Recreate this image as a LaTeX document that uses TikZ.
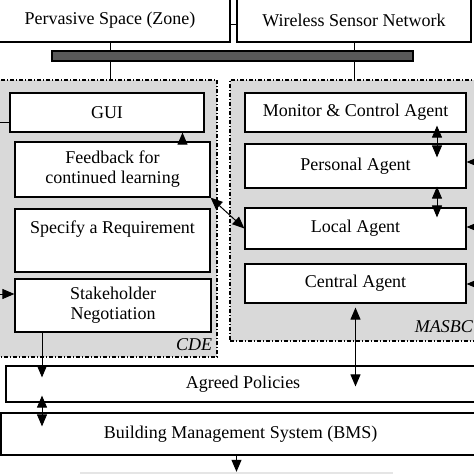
\documentclass[tikz,border=0pt]{standalone}
\usepackage{fontspec}
\setmainfont{Liberation Serif}
\usetikzlibrary{arrows.meta}
\begin{document}
\begin{tikzpicture}[x=1pt,y=-1pt,font=\fontsize{18}{20}\selectfont]
\tikzstyle{box} = [draw,line width=1.2pt,fill=white,inner sep=0pt,align=center];
\tikzstyle{group} = [draw,line width=1.1pt,fill=gray!30,dash pattern=on 4pt off 2pt on 1pt off 2pt];
\tikzstyle{link} = [line width=1pt];
\tikzstyle{arr} = [line width=1pt,-{Triangle[length=12pt,width=10pt]}];
\tikzstyle{darr} = [line width=1pt,{Triangle[length=12pt,width=10pt]}-{Triangle[length=12pt,width=10pt]}];

\useasboundingbox (0,0) rectangle (474,474);
\clip (0,0) rectangle (474,474);

\node [box] (pvs) at (110,20) [minimum width=240pt,minimum height=44pt] {Pervasive Space (Zone)};
\node [box] (wsn) at (354,20) [minimum width=234pt,minimum height=44pt] {Wireless Sensor Network};
\node [draw,line width=1.1pt,fill=black!65,minimum width=361pt,minimum height=10pt,inner sep=0pt] (bus) at (232.5,56) {};

\node [group,minimum width=222pt,minimum height=277pt] (cde) at (106,218.5) {};
\node [group,minimum width=250pt,minimum height=261pt] (mas) at (355,210.5) {};

\node [box] (gui) at (107,112.5) [minimum width=194pt,minimum height=39pt] {GUI};
\node [box] (fb) at (112.5,169.5) [minimum width=195pt,minimum height=55pt] {Feedback for\\continued learning};
\node [box] (spec) at (112.5,240.5) [minimum width=195pt,minimum height=63pt] {Specify a Requirement\\[6pt]\mbox{}};
\node [box] (stk) at (113,305.5) [minimum width=196pt,minimum height=53pt] {Stakeholder\\Negotiation};

\node [box] (mon) at (355.5,112.5) [minimum width=221pt,minimum height=39pt] {Monitor \& Control Agent};
\node [box] (per) at (355.5,166) [minimum width=221pt,minimum height=44pt] {Personal Agent};
\node [box] (loc) at (355.5,228.5) [minimum width=221pt,minimum height=41pt] {Local Agent};
\node [box] (cen) at (355.5,283.5) [minimum width=221pt,minimum height=39pt] {Central Agent};

\node [font=\fontsize{18}{20}\selectfont\itshape] (cdel) at (194,345) {CDE};
\node [font=\fontsize{18}{20}\selectfont\itshape,anchor=east,inner sep=1pt] (masl) at (474,327) {MASBC};

\node [box] (agp) at (243,384) [minimum width=474pt,minimum height=36pt] {Agreed Policies};
\node [box] (bms) at (240.5,434) [minimum width=479pt,minimum height=42pt] {Building Management System (BMS)};
\node [fill=gray!20,minimum width=313pt,minimum height=18pt,inner sep=0pt] (nxt) at (236.5,481) {};

% bus
\draw [link] ([yshift=-4pt]pvs.east) -- ([yshift=-4pt]wsn.west);
\draw [link] (pvs.south) -- (pvs.south |- bus.north);
\draw [link] (wsn.south) -- (wsn.south |- bus.north);
\draw [link] (bus.south -| pvs.south) -- (cde.north -| pvs.south);
\draw [link] (bus.south -| wsn.south) -- (mas.north -| wsn.south);

% CDE
\coordinate (l1) at (-5,122);
\coordinate (l2) at (-5,294);
\draw [link] (l1) -- (l1 -| gui.west);
\draw [arr] (l2) -- (l2 -| stk.west);
\draw [arr] ([xshift=70pt]fb.north) -- ([xshift=70pt]fb.north |- gui.south);
\draw [darr] (fb.south east) -- (loc.west);

% MASBC
\draw [darr,shorten <=-7pt,shorten >=-14pt] ([xshift=81.5pt]mon.south) -- ([xshift=81.5pt]per.north);
\draw [darr,shorten <=-2pt,shorten >=-10pt] ([xshift=81.5pt]per.south) -- ([xshift=81.5pt]loc.north);
\coordinate (r1) at (480,162);
\coordinate (r2) at (480,227);
\coordinate (r3) at (480,284);
\draw [arr] (r1) -- (r1 -| per.east);
\draw [arr] (r2) -- (r2 -| loc.east);
\draw [arr] (r3) -- (r3 -| cen.east);

% policies
\draw [darr,shorten <=4pt,shorten >=-21pt] (cen.south) -- (cen.south |- agp.north);
\draw [arr,shorten >=-12pt] ([xshift=-71pt]stk.south) -- ([xshift=-71pt]stk.south |- agp.north);
\draw [darr,shorten <=-7pt,shorten >=-14pt] ([xshift=-71pt]stk.south |- agp.south) -- ([xshift=-71pt]stk.south |- bms.north);
\draw [arr] (bms.south -| nxt.north) -- (nxt.north);
\end{tikzpicture}
\end{document}
